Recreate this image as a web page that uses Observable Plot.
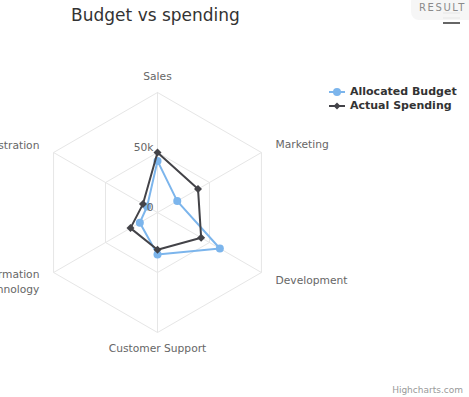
<!DOCTYPE html>
<html>
<head>
<meta charset="utf-8">
<script src="https://cdn.jsdelivr.net/npm/d3@7"></script>
<script src="https://cdn.jsdelivr.net/npm/@observablehq/plot@0.6"></script>
<style>
  html, body { margin: 0; padding: 0; background: #fff; }
  #wrap { position: relative; width: 469px; height: 397px; overflow: hidden; font-family: "DejaVu Sans", sans-serif; }
  #chart { position: absolute; left: 0; top: 0; }
  .title { position: absolute; left: 0; width: 311px; top: 4px; text-align: center; font-size: 17px; line-height: 22px; color: #333; white-space: nowrap; }
  .legend { position: absolute; left: 329px; top: 85px; font-size: 11px; font-weight: bold; color: #333; line-height: 14px; }
  .legend .item { display: flex; align-items: center; height: 14px; white-space: nowrap; }
  .legend svg { margin-right: 5px; }
  .credit { position: absolute; right: 6px; top: 384px; font-size: 9px; line-height: 12px; color: #999; }
  .menu { position: absolute; left: 443px; top: 12px; width: 17px; }
  .menu div { height: 2px; background: #666; margin-bottom: 3px; }
  .result { position: absolute; left: 411px; top: -6px; width: 70px; height: 26px; border-radius: 8px; background: rgba(245,245,245,0.95); }
  .result span { position: absolute; left: 8px; top: 8px; font-size: 10px; letter-spacing: 1.6px; color: #8a8a8a; line-height: 12px; }
</style>
</head>
<body>
<div id="wrap">
  <div id="chart"></div>
  <div class="title">Budget vs spending</div>
  <div class="legend" id="legend"></div>
  <div class="credit">Highcharts.com</div>
  <div class="menu"><div></div><div></div><div></div></div>
  <div class="result"><span>RESULT</span></div>
</div>
<script>
const categories = ["Sales", "Marketing", "Development", "Customer Support", "Information Technology", "Administration"];
const budget = [43000, 19000, 60000, 35000, 17000, 10000];
const spending = [50000, 39000, 42000, 31000, 26000, 14000];
const gridLevels = [50000, 100000];
const tickValues = [0, 50000];
const tickLabels = ["0", "50k"];
const seriesNames = ["Allocated Budget", "Actual Spending"];
const seriesColors = ["#7cb5ec", "#434348"];

const n = categories.length;
const maxValue = d3.max(gridLevels);
const ang = i => (2 * Math.PI * i) / n;
const px = (v, i) => v * Math.sin(ang(i));
const py = (v, i) => v * Math.cos(ang(i));

const ring = vals => vals.map((v, i) => ({v, i})).concat([{v: vals[0], i: 0}]);
const grid = gridLevels.flatMap(level => ring(categories.map(() => level)).map(d => ({...d, level})));
const spokes = categories.map((c, i) => ({c, i}));
const budgetPts = ring(budget);
const spendPts = ring(spending);
const labelR = maxValue * 1.136;
const labels = categories.map((c, i) => ({c, i, s: Math.sin(ang(i))}));

const plot = Plot.plot({
  width: 469,
  height: 397,
  marginLeft: 37,
  marginRight: 192,
  marginTop: 92,
  marginBottom: 65,
  x: {domain: [-maxValue, maxValue], axis: null},
  y: {domain: [-maxValue, maxValue], axis: null},
  style: {fontFamily: "DejaVu Sans, sans-serif", fontSize: "10.7px", background: "transparent", overflow: "visible"},
  marks: [
    Plot.line(grid, {x: d => px(d.v, d.i), y: d => py(d.v, d.i), z: "level", stroke: "#e6e6e6", strokeWidth: 1}),
    Plot.link(spokes, {x1: () => 0, y1: () => 0, x2: d => px(maxValue, d.i), y2: d => py(maxValue, d.i), stroke: "#e6e6e6", strokeWidth: 1}),
    Plot.line(budgetPts, {x: d => px(d.v, d.i), y: d => py(d.v, d.i), stroke: seriesColors[0], strokeWidth: 2}),
    Plot.dot(budgetPts.slice(0, n), {x: d => px(d.v, d.i), y: d => py(d.v, d.i), r: 4, fill: seriesColors[0], symbol: "circle"}),
    Plot.line(spendPts, {x: d => px(d.v, d.i), y: d => py(d.v, d.i), stroke: seriesColors[1], strokeWidth: 2}),
    Plot.dot(spendPts.slice(0, n), {x: d => px(d.v, d.i), y: d => py(d.v, d.i), r: 3.6, fill: seriesColors[1], symbol: "diamond2"}),
    Plot.text(tickValues, {x: () => 0, y: d => d, text: (d, i) => tickLabels[i], textAnchor: "end", dx: -4, dy: -5, fill: "#666"}),
    Plot.text(labels.filter(d => d.s > 0.1), {x: d => px(labelR, d.i), y: d => py(labelR, d.i), text: "c", textAnchor: "start", fill: "#666"}),
    Plot.text(labels.filter(d => d.s < -0.1), {x: d => px(labelR, d.i), y: d => py(labelR, d.i), text: "c", textAnchor: "end", lineWidth: 8, lineHeight: 1.36, fill: "#666"}),
    Plot.text(labels.filter(d => Math.abs(d.s) <= 0.1), {x: d => px(labelR, d.i), y: d => py(labelR, d.i), text: "c", textAnchor: "middle", fill: "#666"})
  ]
});
document.getElementById("chart").append(plot);

// legend
const legend = document.getElementById("legend");
seriesNames.forEach((name, k) => {
  const item = document.createElement("div");
  item.className = "item";
  const sym = k === 0
    ? `<circle cx="8" cy="5" r="4" fill="${seriesColors[k]}"/>`
    : `<path d="M8 1.5 L11.5 5 L8 8.5 L4.5 5 Z" fill="${seriesColors[k]}"/>`;
  item.innerHTML = `<svg width="16" height="10"><line x1="0" y1="5" x2="16" y2="5" stroke="${seriesColors[k]}" stroke-width="2"/>${sym}</svg><span>${name}</span>`;
  legend.append(item);
});
</script>
</body>
</html>
